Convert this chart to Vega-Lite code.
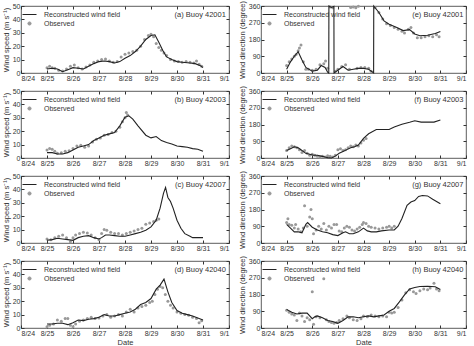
{
"$schema": "https://vega.github.io/schema/vega-lite/v6.json",
"padding": {"left": 1, "top": 0, "right": 0, "bottom": 0},
"config": {
 "font": "Liberation Sans",
 "view": {"stroke": "#333", "strokeWidth": 0.8},
 "axis": {"grid": false, "domain": false, "labelFontSize": 7, "titleFontSize": 7.5, "titleFontWeight": "normal", "labelColor": "#333", "titleColor": "#333", "tickColor": "#333", "tickSize": -3, "labelPadding": 4, "titlePadding": 2},
 "legend": {"orient": "top-left", "offset": 5, "padding": 0, "labelFontSize": 7, "labelColor": "#333", "symbolSize": 36, "rowPadding": 1, "labelOffset": 11, "title": null}
},
"datasets": {"w": [
{"panel":"a","series":"rec","day":25,"value":3},{"panel":"a","series":"rec","day":25.2,"value":3.5},{"panel":"a","series":"rec","day":25.4,"value":3},{"panel":"a","series":"rec","day":25.6,"value":1},{"panel":"a","series":"rec","day":25.8,"value":2.5},{"panel":"a","series":"rec","day":26,"value":4},{"panel":"a","series":"rec","day":26.2,"value":3.5},{"panel":"a","series":"rec","day":26.4,"value":3},{"panel":"a","series":"rec","day":26.6,"value":5},{"panel":"a","series":"rec","day":26.8,"value":7},{"panel":"a","series":"rec","day":27,"value":8.5},{"panel":"a","series":"rec","day":27.2,"value":9},{"panel":"a","series":"rec","day":27.4,"value":8.5},{"panel":"a","series":"rec","day":27.6,"value":7.5},{"panel":"a","series":"rec","day":27.8,"value":8.5},{"panel":"a","series":"rec","day":28,"value":11},{"panel":"a","series":"rec","day":28.2,"value":13},{"panel":"a","series":"rec","day":28.4,"value":16},{"panel":"a","series":"rec","day":28.6,"value":20},{"panel":"a","series":"rec","day":28.8,"value":25},{"panel":"a","series":"rec","day":29,"value":28},{"panel":"a","series":"rec","day":29.15,"value":28.5},{"panel":"a","series":"rec","day":29.3,"value":23},{"panel":"a","series":"rec","day":29.45,"value":17},{"panel":"a","series":"rec","day":29.6,"value":12},{"panel":"a","series":"rec","day":29.8,"value":10},{"panel":"a","series":"rec","day":30,"value":8.5},{"panel":"a","series":"rec","day":30.2,"value":8},{"panel":"a","series":"rec","day":30.5,"value":7.5},{"panel":"a","series":"rec","day":30.7,"value":7},{"panel":"a","series":"rec","day":30.9,"value":5.5},{"panel":"a","series":"rec","day":31,"value":4},
{"panel":"a","series":"obs","day":25,"value":4},{"panel":"a","series":"obs","day":25.1,"value":5},{"panel":"a","series":"obs","day":25.2,"value":4},{"panel":"a","series":"obs","day":25.3,"value":3.5},{"panel":"a","series":"obs","day":25.45,"value":2},{"panel":"a","series":"obs","day":25.6,"value":1.5},{"panel":"a","series":"obs","day":25.75,"value":3},{"panel":"a","series":"obs","day":25.9,"value":5},{"panel":"a","series":"obs","day":26.05,"value":6},{"panel":"a","series":"obs","day":26.2,"value":4},{"panel":"a","series":"obs","day":26.35,"value":3},{"panel":"a","series":"obs","day":26.5,"value":4.5},{"panel":"a","series":"obs","day":26.65,"value":6},{"panel":"a","series":"obs","day":26.8,"value":8},{"panel":"a","series":"obs","day":26.95,"value":9},{"panel":"a","series":"obs","day":27.1,"value":10},{"panel":"a","series":"obs","day":27.25,"value":10.5},{"panel":"a","series":"obs","day":27.4,"value":9},{"panel":"a","series":"obs","day":27.55,"value":8},{"panel":"a","series":"obs","day":27.7,"value":8.5},{"panel":"a","series":"obs","day":27.85,"value":12},{"panel":"a","series":"obs","day":28,"value":14},{"panel":"a","series":"obs","day":28.15,"value":15},{"panel":"a","series":"obs","day":28.3,"value":16},{"panel":"a","series":"obs","day":28.45,"value":17},{"panel":"a","series":"obs","day":28.6,"value":20},{"panel":"a","series":"obs","day":28.75,"value":25},{"panel":"a","series":"obs","day":28.9,"value":28},{"panel":"a","series":"obs","day":29,"value":29},{"panel":"a","series":"obs","day":29.1,"value":27},{"panel":"a","series":"obs","day":29.2,"value":22},{"panel":"a","series":"obs","day":29.3,"value":19},{"panel":"a","series":"obs","day":29.4,"value":17},{"panel":"a","series":"obs","day":29.5,"value":15},{"panel":"a","series":"obs","day":29.6,"value":13},{"panel":"a","series":"obs","day":29.75,"value":10},{"panel":"a","series":"obs","day":29.9,"value":9},{"panel":"a","series":"obs","day":30.05,"value":8.5},{"panel":"a","series":"obs","day":30.2,"value":8},{"panel":"a","series":"obs","day":30.35,"value":8.5},{"panel":"a","series":"obs","day":30.5,"value":8},{"panel":"a","series":"obs","day":30.65,"value":7.5},{"panel":"a","series":"obs","day":30.75,"value":9},{"panel":"a","series":"obs","day":30.85,"value":6.5},{"panel":"a","series":"obs","day":30.95,"value":5},
{"panel":"b","series":"rec","day":25,"value":4},{"panel":"b","series":"rec","day":25.2,"value":4},{"panel":"b","series":"rec","day":25.4,"value":3},{"panel":"b","series":"rec","day":25.6,"value":3},{"panel":"b","series":"rec","day":25.8,"value":4},{"panel":"b","series":"rec","day":26,"value":6},{"panel":"b","series":"rec","day":26.2,"value":8},{"panel":"b","series":"rec","day":26.4,"value":9},{"panel":"b","series":"rec","day":26.6,"value":10},{"panel":"b","series":"rec","day":26.8,"value":13},{"panel":"b","series":"rec","day":27,"value":15},{"panel":"b","series":"rec","day":27.2,"value":17},{"panel":"b","series":"rec","day":27.4,"value":18},{"panel":"b","series":"rec","day":27.6,"value":19},{"panel":"b","series":"rec","day":27.8,"value":24},{"panel":"b","series":"rec","day":28,"value":30.5},{"panel":"b","series":"rec","day":28.15,"value":31.5},{"panel":"b","series":"rec","day":28.3,"value":29},{"panel":"b","series":"rec","day":28.5,"value":24},{"panel":"b","series":"rec","day":28.8,"value":17},{"panel":"b","series":"rec","day":29,"value":15},{"panel":"b","series":"rec","day":29.2,"value":16},{"panel":"b","series":"rec","day":29.4,"value":13},{"panel":"b","series":"rec","day":29.6,"value":11.5},{"panel":"b","series":"rec","day":29.8,"value":10.5},{"panel":"b","series":"rec","day":30,"value":9},{"panel":"b","series":"rec","day":30.2,"value":8.5},{"panel":"b","series":"rec","day":30.4,"value":8},{"panel":"b","series":"rec","day":30.6,"value":7},{"panel":"b","series":"rec","day":30.8,"value":6.5},{"panel":"b","series":"rec","day":31,"value":5},
{"panel":"b","series":"obs","day":25,"value":6},{"panel":"b","series":"obs","day":25.1,"value":7},{"panel":"b","series":"obs","day":25.2,"value":6.5},{"panel":"b","series":"obs","day":25.3,"value":5},{"panel":"b","series":"obs","day":25.4,"value":3.5},{"panel":"b","series":"obs","day":25.55,"value":4},{"panel":"b","series":"obs","day":25.7,"value":5},{"panel":"b","series":"obs","day":25.85,"value":5.5},{"panel":"b","series":"obs","day":26,"value":7},{"panel":"b","series":"obs","day":26.15,"value":9},{"panel":"b","series":"obs","day":26.3,"value":9.5},{"panel":"b","series":"obs","day":26.45,"value":8},{"panel":"b","series":"obs","day":26.6,"value":9},{"panel":"b","series":"obs","day":26.75,"value":12},{"panel":"b","series":"obs","day":26.9,"value":14},{"panel":"b","series":"obs","day":27.05,"value":15},{"panel":"b","series":"obs","day":27.2,"value":17},{"panel":"b","series":"obs","day":27.35,"value":17.5},{"panel":"b","series":"obs","day":27.5,"value":19},{"panel":"b","series":"obs","day":27.65,"value":20},{"panel":"b","series":"obs","day":27.8,"value":23},{"panel":"b","series":"obs","day":27.9,"value":27},{"panel":"b","series":"obs","day":28,"value":30},{"panel":"b","series":"obs","day":28.05,"value":34},{"panel":"b","series":"obs","day":28.1,"value":32},
{"panel":"c","series":"rec","day":25,"value":2},{"panel":"c","series":"rec","day":25.2,"value":2.5},{"panel":"c","series":"rec","day":25.4,"value":3.5},{"panel":"c","series":"rec","day":25.6,"value":3},{"panel":"c","series":"rec","day":25.8,"value":2.5},{"panel":"c","series":"rec","day":26,"value":2},{"panel":"c","series":"rec","day":26.2,"value":4},{"panel":"c","series":"rec","day":26.4,"value":5},{"panel":"c","series":"rec","day":26.6,"value":5.5},{"panel":"c","series":"rec","day":26.8,"value":4},{"panel":"c","series":"rec","day":27,"value":3},{"panel":"c","series":"rec","day":27.1,"value":4},{"panel":"c","series":"rec","day":27.25,"value":6},{"panel":"c","series":"rec","day":27.4,"value":6},{"panel":"c","series":"rec","day":27.6,"value":5.5},{"panel":"c","series":"rec","day":27.8,"value":5},{"panel":"c","series":"rec","day":28,"value":5},{"panel":"c","series":"rec","day":28.2,"value":6},{"panel":"c","series":"rec","day":28.4,"value":7},{"panel":"c","series":"rec","day":28.6,"value":8},{"panel":"c","series":"rec","day":28.8,"value":9.5},{"panel":"c","series":"rec","day":29,"value":12},{"panel":"c","series":"rec","day":29.2,"value":17},{"panel":"c","series":"rec","day":29.35,"value":26},{"panel":"c","series":"rec","day":29.48,"value":37},{"panel":"c","series":"rec","day":29.56,"value":41.5},{"panel":"c","series":"rec","day":29.65,"value":34},{"panel":"c","series":"rec","day":29.75,"value":31},{"panel":"c","series":"rec","day":29.85,"value":26},{"panel":"c","series":"rec","day":30,"value":17},{"panel":"c","series":"rec","day":30.15,"value":11},{"panel":"c","series":"rec","day":30.3,"value":7},{"panel":"c","series":"rec","day":30.5,"value":5},{"panel":"c","series":"rec","day":30.6,"value":4},{"panel":"c","series":"rec","day":30.8,"value":4},{"panel":"c","series":"rec","day":31,"value":4},
{"panel":"c","series":"obs","day":25,"value":3},{"panel":"c","series":"obs","day":25.15,"value":2.5},{"panel":"c","series":"obs","day":25.3,"value":4},{"panel":"c","series":"obs","day":25.45,"value":5},{"panel":"c","series":"obs","day":25.6,"value":6},{"panel":"c","series":"obs","day":25.75,"value":4},{"panel":"c","series":"obs","day":25.9,"value":1},{"panel":"c","series":"obs","day":26,"value":4},{"panel":"c","series":"obs","day":26.1,"value":6},{"panel":"c","series":"obs","day":26.25,"value":7},{"panel":"c","series":"obs","day":26.4,"value":8},{"panel":"c","series":"obs","day":26.55,"value":7.5},{"panel":"c","series":"obs","day":26.7,"value":6},{"panel":"c","series":"obs","day":26.85,"value":4},{"panel":"c","series":"obs","day":27,"value":2.5},{"panel":"c","series":"obs","day":27.1,"value":7},{"panel":"c","series":"obs","day":27.2,"value":10},{"panel":"c","series":"obs","day":27.3,"value":9.5},{"panel":"c","series":"obs","day":27.45,"value":8},{"panel":"c","series":"obs","day":27.6,"value":7},{"panel":"c","series":"obs","day":27.75,"value":7},{"panel":"c","series":"obs","day":27.9,"value":6},{"panel":"c","series":"obs","day":28.05,"value":7},{"panel":"c","series":"obs","day":28.2,"value":8},{"panel":"c","series":"obs","day":28.35,"value":9},{"panel":"c","series":"obs","day":28.5,"value":10},{"panel":"c","series":"obs","day":28.65,"value":11},{"panel":"c","series":"obs","day":28.8,"value":14},{"panel":"c","series":"obs","day":28.95,"value":15},{"panel":"c","series":"obs","day":29.1,"value":16},{"panel":"c","series":"obs","day":29.2,"value":17},{"panel":"c","series":"obs","day":29.3,"value":18},
{"panel":"d","series":"rec","day":25,"value":3},{"panel":"d","series":"rec","day":25.2,"value":3},{"panel":"d","series":"rec","day":25.4,"value":3.5},{"panel":"d","series":"rec","day":25.6,"value":3.5},{"panel":"d","series":"rec","day":25.8,"value":2.5},{"panel":"d","series":"rec","day":26,"value":4},{"panel":"d","series":"rec","day":26.2,"value":6},{"panel":"d","series":"rec","day":26.4,"value":5.5},{"panel":"d","series":"rec","day":26.6,"value":6.5},{"panel":"d","series":"rec","day":26.8,"value":7},{"panel":"d","series":"rec","day":27,"value":8},{"panel":"d","series":"rec","day":27.2,"value":10},{"panel":"d","series":"rec","day":27.4,"value":9},{"panel":"d","series":"rec","day":27.6,"value":9},{"panel":"d","series":"rec","day":27.8,"value":10},{"panel":"d","series":"rec","day":28,"value":11},{"panel":"d","series":"rec","day":28.2,"value":12},{"panel":"d","series":"rec","day":28.4,"value":14},{"panel":"d","series":"rec","day":28.6,"value":17.5},{"panel":"d","series":"rec","day":28.8,"value":19},{"panel":"d","series":"rec","day":29,"value":22},{"panel":"d","series":"rec","day":29.2,"value":29},{"panel":"d","series":"rec","day":29.35,"value":32},{"panel":"d","series":"rec","day":29.5,"value":36.5},{"panel":"d","series":"rec","day":29.65,"value":27},{"panel":"d","series":"rec","day":29.8,"value":19},{"panel":"d","series":"rec","day":30,"value":13},{"panel":"d","series":"rec","day":30.2,"value":11},{"panel":"d","series":"rec","day":30.4,"value":10},{"panel":"d","series":"rec","day":30.6,"value":9},{"panel":"d","series":"rec","day":30.8,"value":7.5},{"panel":"d","series":"rec","day":31,"value":6},
{"panel":"d","series":"obs","day":25,"value":1},{"panel":"d","series":"obs","day":25.1,"value":2},{"panel":"d","series":"obs","day":25.25,"value":3},{"panel":"d","series":"obs","day":25.4,"value":6},{"panel":"d","series":"obs","day":25.55,"value":5},{"panel":"d","series":"obs","day":25.7,"value":7},{"panel":"d","series":"obs","day":25.8,"value":7},{"panel":"d","series":"obs","day":25.9,"value":2},{"panel":"d","series":"obs","day":26,"value":1},{"panel":"d","series":"obs","day":26.1,"value":3},{"panel":"d","series":"obs","day":26.25,"value":5},{"panel":"d","series":"obs","day":26.4,"value":6},{"panel":"d","series":"obs","day":26.55,"value":7},{"panel":"d","series":"obs","day":26.7,"value":8},{"panel":"d","series":"obs","day":26.85,"value":7},{"panel":"d","series":"obs","day":27,"value":7.5},{"panel":"d","series":"obs","day":27.15,"value":9},{"panel":"d","series":"obs","day":27.3,"value":10},{"panel":"d","series":"obs","day":27.45,"value":8},{"panel":"d","series":"obs","day":27.6,"value":9},{"panel":"d","series":"obs","day":27.75,"value":10},{"panel":"d","series":"obs","day":27.9,"value":9},{"panel":"d","series":"obs","day":28.05,"value":12},{"panel":"d","series":"obs","day":28.2,"value":14},{"panel":"d","series":"obs","day":28.35,"value":12},{"panel":"d","series":"obs","day":28.5,"value":15},{"panel":"d","series":"obs","day":28.65,"value":16},{"panel":"d","series":"obs","day":28.8,"value":17},{"panel":"d","series":"obs","day":28.95,"value":19},{"panel":"d","series":"obs","day":29.05,"value":20},{"panel":"d","series":"obs","day":29.15,"value":25},{"panel":"d","series":"obs","day":29.25,"value":29},{"panel":"d","series":"obs","day":29.35,"value":31},{"panel":"d","series":"obs","day":29.45,"value":30},{"panel":"d","series":"obs","day":29.55,"value":25},{"panel":"d","series":"obs","day":29.65,"value":20},{"panel":"d","series":"obs","day":29.75,"value":17},{"panel":"d","series":"obs","day":29.85,"value":15},{"panel":"d","series":"obs","day":30,"value":12},{"panel":"d","series":"obs","day":30.15,"value":11},{"panel":"d","series":"obs","day":30.3,"value":10},{"panel":"d","series":"obs","day":30.45,"value":9.5},{"panel":"d","series":"obs","day":30.6,"value":8},{"panel":"d","series":"obs","day":30.75,"value":7},{"panel":"d","series":"obs","day":30.85,"value":4},{"panel":"d","series":"obs","day":30.95,"value":5.5},
{"panel":"e","series":"rec","day":25,"value":20},{"panel":"e","series":"rec","day":25.15,"value":60},{"panel":"e","series":"rec","day":25.3,"value":90},{"panel":"e","series":"rec","day":25.45,"value":114},{"panel":"e","series":"rec","day":25.6,"value":70},{"panel":"e","series":"rec","day":25.75,"value":30},{"panel":"e","series":"rec","day":26,"value":10},{"panel":"e","series":"rec","day":26.2,"value":15},{"panel":"e","series":"rec","day":26.35,"value":40},{"panel":"e","series":"rec","day":26.5,"value":30},{"panel":"e","series":"rec","day":26.6,"value":5},{"panel":"e","series":"rec","day":26.645,"value":0},{"panel":"e","series":"rec","day":26.65,"value":360},{"panel":"e","series":"rec","day":26.75,"value":352},{"panel":"e","series":"rec","day":26.845,"value":358},{"panel":"e","series":"rec","day":26.85,"value":0},{"panel":"e","series":"rec","day":27,"value":15},{"panel":"e","series":"rec","day":27.2,"value":35},{"panel":"e","series":"rec","day":27.4,"value":15},{"panel":"e","series":"rec","day":27.6,"value":20},{"panel":"e","series":"rec","day":27.8,"value":25},{"panel":"e","series":"rec","day":28,"value":25},{"panel":"e","series":"rec","day":28.2,"value":20},{"panel":"e","series":"rec","day":28.395,"value":0},{"panel":"e","series":"rec","day":28.4,"value":360},{"panel":"e","series":"rec","day":28.6,"value":325},{"panel":"e","series":"rec","day":28.8,"value":280},{"panel":"e","series":"rec","day":29,"value":262},{"panel":"e","series":"rec","day":29.3,"value":245},{"panel":"e","series":"rec","day":29.55,"value":228},{"panel":"e","series":"rec","day":29.8,"value":233},{"panel":"e","series":"rec","day":30,"value":210},{"panel":"e","series":"rec","day":30.2,"value":200},{"panel":"e","series":"rec","day":30.5,"value":203},{"panel":"e","series":"rec","day":30.8,"value":212},{"panel":"e","series":"rec","day":31,"value":223},
{"panel":"e","series":"obs","day":25,"value":40},{"panel":"e","series":"obs","day":25.1,"value":60},{"panel":"e","series":"obs","day":25.2,"value":75},{"panel":"e","series":"obs","day":25.3,"value":90},{"panel":"e","series":"obs","day":25.37,"value":100},{"panel":"e","series":"obs","day":25.45,"value":120},{"panel":"e","series":"obs","day":25.5,"value":135},{"panel":"e","series":"obs","day":25.56,"value":150},{"panel":"e","series":"obs","day":25.65,"value":60},{"panel":"e","series":"obs","day":25.75,"value":20},{"panel":"e","series":"obs","day":25.85,"value":20},{"panel":"e","series":"obs","day":26,"value":15},{"panel":"e","series":"obs","day":26.15,"value":20},{"panel":"e","series":"obs","day":26.3,"value":45},{"panel":"e","series":"obs","day":26.45,"value":50},{"panel":"e","series":"obs","day":26.52,"value":65},{"panel":"e","series":"obs","day":26.6,"value":25},{"panel":"e","series":"obs","day":26.7,"value":355},{"panel":"e","series":"obs","day":26.8,"value":350},{"panel":"e","series":"obs","day":26.9,"value":10},{"panel":"e","series":"obs","day":27,"value":20},{"panel":"e","series":"obs","day":27.15,"value":35},{"panel":"e","series":"obs","day":27.3,"value":45},{"panel":"e","series":"obs","day":27.45,"value":20},{"panel":"e","series":"obs","day":27.5,"value":352},{"panel":"e","series":"obs","day":27.6,"value":355},{"panel":"e","series":"obs","day":27.7,"value":350},{"panel":"e","series":"obs","day":27.8,"value":358},{"panel":"e","series":"obs","day":27.75,"value":25},{"panel":"e","series":"obs","day":27.9,"value":30},{"panel":"e","series":"obs","day":28.05,"value":30},{"panel":"e","series":"obs","day":28.2,"value":25},{"panel":"e","series":"obs","day":28.3,"value":10},{"panel":"e","series":"obs","day":28.45,"value":350},{"panel":"e","series":"obs","day":28.6,"value":325},{"panel":"e","series":"obs","day":28.75,"value":290},{"panel":"e","series":"obs","day":28.9,"value":265},{"panel":"e","series":"obs","day":29.05,"value":255},{"panel":"e","series":"obs","day":29.2,"value":245},{"panel":"e","series":"obs","day":29.35,"value":235},{"panel":"e","series":"obs","day":29.5,"value":225},{"panel":"e","series":"obs","day":29.6,"value":215},{"panel":"e","series":"obs","day":29.75,"value":235},{"panel":"e","series":"obs","day":29.85,"value":245},{"panel":"e","series":"obs","day":29.95,"value":215},{"panel":"e","series":"obs","day":30.1,"value":190},{"panel":"e","series":"obs","day":30.25,"value":190},{"panel":"e","series":"obs","day":30.4,"value":195},{"panel":"e","series":"obs","day":30.55,"value":200},{"panel":"e","series":"obs","day":30.7,"value":195},{"panel":"e","series":"obs","day":30.85,"value":205},{"panel":"e","series":"obs","day":30.95,"value":195},
{"panel":"f","series":"rec","day":25,"value":40},{"panel":"f","series":"rec","day":25.15,"value":50},{"panel":"f","series":"rec","day":25.3,"value":60},{"panel":"f","series":"rec","day":25.45,"value":55},{"panel":"f","series":"rec","day":25.6,"value":40},{"panel":"f","series":"rec","day":25.75,"value":25},{"panel":"f","series":"rec","day":25.9,"value":20},{"panel":"f","series":"rec","day":26.05,"value":15},{"panel":"f","series":"rec","day":26.2,"value":15},{"panel":"f","series":"rec","day":26.35,"value":10},{"panel":"f","series":"rec","day":26.5,"value":5},{"panel":"f","series":"rec","day":26.6,"value":2},{"panel":"f","series":"rec","day":26.75,"value":0},{"panel":"f","series":"rec","day":26.9,"value":10},{"panel":"f","series":"rec","day":27.05,"value":25},{"panel":"f","series":"rec","day":27.2,"value":35},{"panel":"f","series":"rec","day":27.35,"value":45},{"panel":"f","series":"rec","day":27.5,"value":55},{"panel":"f","series":"rec","day":27.65,"value":60},{"panel":"f","series":"rec","day":27.8,"value":70},{"panel":"f","series":"rec","day":28,"value":105},{"panel":"f","series":"rec","day":28.2,"value":130},{"panel":"f","series":"rec","day":28.5,"value":153},{"panel":"f","series":"rec","day":29,"value":153},{"panel":"f","series":"rec","day":29.2,"value":167},{"panel":"f","series":"rec","day":29.5,"value":181},{"panel":"f","series":"rec","day":29.8,"value":192},{"panel":"f","series":"rec","day":30,"value":200},{"panel":"f","series":"rec","day":30.25,"value":193},{"panel":"f","series":"rec","day":30.75,"value":193},{"panel":"f","series":"rec","day":31,"value":204},
{"panel":"f","series":"obs","day":25,"value":40},{"panel":"f","series":"obs","day":25.1,"value":55},{"panel":"f","series":"obs","day":25.2,"value":65},{"panel":"f","series":"obs","day":25.3,"value":60},{"panel":"f","series":"obs","day":25.4,"value":55},{"panel":"f","series":"obs","day":25.5,"value":45},{"panel":"f","series":"obs","day":25.6,"value":30},{"panel":"f","series":"obs","day":25.7,"value":40},{"panel":"f","series":"obs","day":25.8,"value":25},{"panel":"f","series":"obs","day":25.9,"value":15},{"panel":"f","series":"obs","day":26,"value":20},{"panel":"f","series":"obs","day":26.1,"value":15},{"panel":"f","series":"obs","day":26.2,"value":10},{"panel":"f","series":"obs","day":26.3,"value":5},{"panel":"f","series":"obs","day":26.4,"value":10},{"panel":"f","series":"obs","day":26.5,"value":5},{"panel":"f","series":"obs","day":26.6,"value":12},{"panel":"f","series":"obs","day":26.7,"value":10},{"panel":"f","series":"obs","day":26.8,"value":5},{"panel":"f","series":"obs","day":26.9,"value":15},{"panel":"f","series":"obs","day":27,"value":45},{"panel":"f","series":"obs","day":27.1,"value":50},{"panel":"f","series":"obs","day":27.2,"value":40},{"panel":"f","series":"obs","day":27.3,"value":45},{"panel":"f","series":"obs","day":27.4,"value":55},{"panel":"f","series":"obs","day":27.5,"value":65},{"panel":"f","series":"obs","day":27.6,"value":60},{"panel":"f","series":"obs","day":27.7,"value":70},{"panel":"f","series":"obs","day":27.8,"value":65},{"panel":"f","series":"obs","day":27.9,"value":80},{"panel":"f","series":"obs","day":28,"value":95},{"panel":"f","series":"obs","day":28.1,"value":105},
{"panel":"g","series":"rec","day":25,"value":100},{"panel":"g","series":"rec","day":25.15,"value":80},{"panel":"g","series":"rec","day":25.3,"value":60},{"panel":"g","series":"rec","day":25.45,"value":60},{"panel":"g","series":"rec","day":25.6,"value":55},{"panel":"g","series":"rec","day":25.75,"value":100},{"panel":"g","series":"rec","day":25.82,"value":110},{"panel":"g","series":"rec","day":26,"value":85},{"panel":"g","series":"rec","day":26.2,"value":70},{"panel":"g","series":"rec","day":26.4,"value":60},{"panel":"g","series":"rec","day":26.6,"value":55},{"panel":"g","series":"rec","day":26.8,"value":45},{"panel":"g","series":"rec","day":27,"value":40},{"panel":"g","series":"rec","day":27.2,"value":55},{"panel":"g","series":"rec","day":27.3,"value":60},{"panel":"g","series":"rec","day":27.45,"value":50},{"panel":"g","series":"rec","day":27.6,"value":50},{"panel":"g","series":"rec","day":27.8,"value":60},{"panel":"g","series":"rec","day":28,"value":80},{"panel":"g","series":"rec","day":28.15,"value":65},{"panel":"g","series":"rec","day":28.3,"value":60},{"panel":"g","series":"rec","day":28.5,"value":60},{"panel":"g","series":"rec","day":28.7,"value":65},{"panel":"g","series":"rec","day":29,"value":70},{"panel":"g","series":"rec","day":29.2,"value":70},{"panel":"g","series":"rec","day":29.35,"value":90},{"panel":"g","series":"rec","day":29.5,"value":132},{"panel":"g","series":"rec","day":29.7,"value":202},{"panel":"g","series":"rec","day":29.85,"value":220},{"panel":"g","series":"rec","day":30,"value":228},{"panel":"g","series":"rec","day":30.15,"value":250},{"panel":"g","series":"rec","day":30.3,"value":255},{"panel":"g","series":"rec","day":30.5,"value":253},{"panel":"g","series":"rec","day":30.7,"value":235},{"panel":"g","series":"rec","day":31,"value":211},
{"panel":"g","series":"obs","day":25,"value":110},{"panel":"g","series":"obs","day":25.05,"value":130},{"panel":"g","series":"obs","day":25.1,"value":100},{"panel":"g","series":"obs","day":25.2,"value":95},{"panel":"g","series":"obs","day":25.3,"value":80},{"panel":"g","series":"obs","day":25.35,"value":100},{"panel":"g","series":"obs","day":25.45,"value":75},{"panel":"g","series":"obs","day":25.55,"value":60},{"panel":"g","series":"obs","day":25.65,"value":80},{"panel":"g","series":"obs","day":25.7,"value":200},{"panel":"g","series":"obs","day":25.8,"value":90},{"panel":"g","series":"obs","day":25.9,"value":140},{"panel":"g","series":"obs","day":25.95,"value":180},{"panel":"g","series":"obs","day":26,"value":130},{"panel":"g","series":"obs","day":26.05,"value":50},{"panel":"g","series":"obs","day":26.15,"value":70},{"panel":"g","series":"obs","day":26.25,"value":90},{"panel":"g","series":"obs","day":26.35,"value":75},{"panel":"g","series":"obs","day":26.45,"value":105},{"panel":"g","series":"obs","day":26.55,"value":70},{"panel":"g","series":"obs","day":26.65,"value":90},{"panel":"g","series":"obs","day":26.75,"value":80},{"panel":"g","series":"obs","day":26.85,"value":100},{"panel":"g","series":"obs","day":26.95,"value":100},{"panel":"g","series":"obs","day":27.05,"value":65},{"panel":"g","series":"obs","day":27.15,"value":60},{"panel":"g","series":"obs","day":27.25,"value":80},{"panel":"g","series":"obs","day":27.35,"value":90},{"panel":"g","series":"obs","day":27.45,"value":85},{"panel":"g","series":"obs","day":27.55,"value":70},{"panel":"g","series":"obs","day":27.65,"value":65},{"panel":"g","series":"obs","day":27.75,"value":75},{"panel":"g","series":"obs","day":27.85,"value":85},{"panel":"g","series":"obs","day":27.95,"value":100},{"panel":"g","series":"obs","day":28,"value":110},{"panel":"g","series":"obs","day":28.1,"value":105},{"panel":"g","series":"obs","day":28.2,"value":90},{"panel":"g","series":"obs","day":28.3,"value":85},{"panel":"g","series":"obs","day":28.45,"value":80},{"panel":"g","series":"obs","day":28.6,"value":75},{"panel":"g","series":"obs","day":28.75,"value":80},{"panel":"g","series":"obs","day":28.9,"value":85},{"panel":"g","series":"obs","day":29,"value":90},{"panel":"g","series":"obs","day":29.1,"value":80},{"panel":"g","series":"obs","day":29.2,"value":90},
{"panel":"h","series":"rec","day":25,"value":100},{"panel":"h","series":"rec","day":25.2,"value":85},{"panel":"h","series":"rec","day":25.4,"value":75},{"panel":"h","series":"rec","day":25.6,"value":80},{"panel":"h","series":"rec","day":25.8,"value":80},{"panel":"h","series":"rec","day":26,"value":50},{"panel":"h","series":"rec","day":26.1,"value":60},{"panel":"h","series":"rec","day":26.2,"value":65},{"panel":"h","series":"rec","day":26.4,"value":55},{"panel":"h","series":"rec","day":26.6,"value":40},{"panel":"h","series":"rec","day":26.8,"value":35},{"panel":"h","series":"rec","day":27,"value":25},{"panel":"h","series":"rec","day":27.2,"value":40},{"panel":"h","series":"rec","day":27.4,"value":60},{"panel":"h","series":"rec","day":27.6,"value":60},{"panel":"h","series":"rec","day":27.8,"value":55},{"panel":"h","series":"rec","day":28,"value":60},{"panel":"h","series":"rec","day":28.2,"value":65},{"panel":"h","series":"rec","day":28.4,"value":60},{"panel":"h","series":"rec","day":28.6,"value":65},{"panel":"h","series":"rec","day":28.8,"value":70},{"panel":"h","series":"rec","day":29,"value":90},{"panel":"h","series":"rec","day":29.2,"value":105},{"panel":"h","series":"rec","day":29.4,"value":140},{"panel":"h","series":"rec","day":29.6,"value":178},{"panel":"h","series":"rec","day":29.8,"value":210},{"panel":"h","series":"rec","day":30,"value":218},{"panel":"h","series":"rec","day":30.2,"value":223},{"panel":"h","series":"rec","day":30.5,"value":224},{"panel":"h","series":"rec","day":30.8,"value":222},{"panel":"h","series":"rec","day":31,"value":207},
{"panel":"h","series":"obs","day":25,"value":95},{"panel":"h","series":"obs","day":25.1,"value":85},{"panel":"h","series":"obs","day":25.2,"value":75},{"panel":"h","series":"obs","day":25.3,"value":70},{"panel":"h","series":"obs","day":25.4,"value":40},{"panel":"h","series":"obs","day":25.5,"value":80},{"panel":"h","series":"obs","day":25.6,"value":65},{"panel":"h","series":"obs","day":25.7,"value":35},{"panel":"h","series":"obs","day":25.8,"value":55},{"panel":"h","series":"obs","day":25.9,"value":45},{"panel":"h","series":"obs","day":26,"value":195},{"panel":"h","series":"obs","day":26.05,"value":20},{"panel":"h","series":"obs","day":26.15,"value":60},{"panel":"h","series":"obs","day":26.3,"value":55},{"panel":"h","series":"obs","day":26.45,"value":265},{"panel":"h","series":"obs","day":26.55,"value":45},{"panel":"h","series":"obs","day":26.65,"value":35},{"panel":"h","series":"obs","day":26.75,"value":30},{"panel":"h","series":"obs","day":26.85,"value":25},{"panel":"h","series":"obs","day":26.95,"value":30},{"panel":"h","series":"obs","day":27.05,"value":40},{"panel":"h","series":"obs","day":27.2,"value":50},{"panel":"h","series":"obs","day":27.35,"value":65},{"panel":"h","series":"obs","day":27.45,"value":55},{"panel":"h","series":"obs","day":27.6,"value":45},{"panel":"h","series":"obs","day":27.75,"value":40},{"panel":"h","series":"obs","day":27.9,"value":50},{"panel":"h","series":"obs","day":28,"value":65},{"panel":"h","series":"obs","day":28.15,"value":60},{"panel":"h","series":"obs","day":28.3,"value":70},{"panel":"h","series":"obs","day":28.45,"value":65},{"panel":"h","series":"obs","day":28.6,"value":60},{"panel":"h","series":"obs","day":28.75,"value":65},{"panel":"h","series":"obs","day":28.9,"value":60},{"panel":"h","series":"obs","day":29,"value":85},{"panel":"h","series":"obs","day":29.1,"value":80},{"panel":"h","series":"obs","day":29.2,"value":85},{"panel":"h","series":"obs","day":29.35,"value":110},{"panel":"h","series":"obs","day":29.5,"value":150},{"panel":"h","series":"obs","day":29.65,"value":190},{"panel":"h","series":"obs","day":29.8,"value":205},{"panel":"h","series":"obs","day":29.95,"value":195},{"panel":"h","series":"obs","day":30.05,"value":185},{"panel":"h","series":"obs","day":30.2,"value":200},{"panel":"h","series":"obs","day":30.35,"value":210},{"panel":"h","series":"obs","day":30.5,"value":205},{"panel":"h","series":"obs","day":30.6,"value":215},{"panel":"h","series":"obs","day":30.75,"value":240},{"panel":"h","series":"obs","day":30.85,"value":210},{"panel":"h","series":"obs","day":30.95,"value":200}
]},
"columns": 2,
"bounds": "flush",
"spacing": {"row": 18, "column": 32},
"resolve": {"scale": {"color": "independent"}, "legend": {"color": "independent"}},
"concat": [
 {"width": 208, "height": 67, "resolve": {"axis": {"x": "independent", "y": "independent"}}, "layer": [
  {"data": {"name": "w"}, "transform": [{"filter": "datum.panel == 'a'"}],
   "encoding": {
    "x": {"field": "day", "type": "quantitative", "scale": {"domain": [24, 32], "nice": false, "zero": false}, "axis": {"values": [24,25,26,27,28,29,30,31,32], "labelExpr": "datum.value < 32 ? '8/' + datum.value : '9/1'", "title": null}},
    "y": {"field": "value", "type": "quantitative", "scale": {"domain": [0, 50], "nice": false}, "axis": {"values": [0,10,20,30,40,50], "title": "Wind speed (m s⁻¹)"}},
    "color": {"field": "series", "type": "nominal", "scale": {"domain": ["rec","obs"], "range": ["#222","#999"]}, "legend": {"labelExpr": "datum.value == 'rec' ? 'Reconstructed wind field' : 'Observed'", "encode": {"symbols": {"update": {"shape": {"signal": "datum.value == 'rec' ? 'stroke' : 'circle'"}, "size": {"signal": "datum.value == 'rec' ? 196 : 10"}, "stroke": {"signal": "datum.value == 'rec' ? '#222' : '#999'"}, "fill": {"signal": "datum.value == 'rec' ? 'transparent' : '#999'"}, "strokeWidth": {"value": 1}}}}}}
   },
   "layer": [
    {"transform": [{"filter": "datum.series == 'obs'"}], "mark": {"type": "point", "filled": true, "size": 9, "opacity": 1}},
    {"transform": [{"filter": "datum.series == 'rec'"}], "mark": {"type": "line", "strokeWidth": 1.1}}
   ]},
  {"data": {"values": [{"label": "(a) Buoy 42001"}]}, "mark": {"type": "text", "align": "right", "baseline": "middle", "fontSize": 7.5, "color": "#333"},
   "encoding": {"x": {"datum": 31.88, "type": "quantitative", "axis": {"orient": "top", "values": [24,25,26,27,28,29,30,31,32], "labels": false, "title": null}}, "y": {"datum": 43.5, "type": "quantitative", "axis": {"orient": "right", "values": [0,10,20,30,40,50], "labels": false, "title": null}}, "text": {"field": "label"}}}
 ]},
 {"width": 205, "height": 67, "resolve": {"axis": {"x": "independent", "y": "independent"}}, "layer": [
  {"data": {"name": "w"}, "transform": [{"filter": "datum.panel == 'e'"}],
   "encoding": {
    "x": {"field": "day", "type": "quantitative", "scale": {"domain": [24, 32], "nice": false, "zero": false}, "axis": {"values": [24,25,26,27,28,29,30,31,32], "labelExpr": "datum.value < 32 ? '8/' + datum.value : '9/1'", "title": null}},
    "y": {"field": "value", "type": "quantitative", "scale": {"domain": [0, 360], "nice": false}, "axis": {"values": [0,90,180,270,360], "title": "Wind direction (degree)"}},
    "color": {"field": "series", "type": "nominal", "scale": {"domain": ["rec","obs"], "range": ["#222","#999"]}, "legend": {"labelExpr": "datum.value == 'rec' ? 'Reconstructed wind field' : 'Observed'", "encode": {"symbols": {"update": {"shape": {"signal": "datum.value == 'rec' ? 'stroke' : 'circle'"}, "size": {"signal": "datum.value == 'rec' ? 196 : 10"}, "stroke": {"signal": "datum.value == 'rec' ? '#222' : '#999'"}, "fill": {"signal": "datum.value == 'rec' ? 'transparent' : '#999'"}, "strokeWidth": {"value": 1}}}}}}
   },
   "layer": [
    {"transform": [{"filter": "datum.series == 'obs'"}], "mark": {"type": "point", "filled": true, "size": 9, "opacity": 1}},
    {"transform": [{"filter": "datum.series == 'rec'"}], "mark": {"type": "line", "strokeWidth": 1.1}}
   ]},
  {"data": {"values": [{"label": "(e) Buoy 42001"}]}, "mark": {"type": "text", "align": "right", "baseline": "middle", "fontSize": 7.5, "color": "#333"},
   "encoding": {"x": {"datum": 31.9, "type": "quantitative", "axis": {"orient": "top", "values": [24,25,26,27,28,29,30,31,32], "labels": false, "title": null}}, "y": {"datum": 313, "type": "quantitative", "axis": {"orient": "right", "values": [0,90,180,270,360], "labels": false, "title": null}}, "text": {"field": "label"}}}
 ]},
 {"width": 208, "height": 67, "resolve": {"axis": {"x": "independent", "y": "independent"}}, "layer": [
  {"data": {"name": "w"}, "transform": [{"filter": "datum.panel == 'b'"}],
   "encoding": {
    "x": {"field": "day", "type": "quantitative", "scale": {"domain": [24, 32], "nice": false, "zero": false}, "axis": {"values": [24,25,26,27,28,29,30,31,32], "labelExpr": "datum.value < 32 ? '8/' + datum.value : '9/1'", "title": null}},
    "y": {"field": "value", "type": "quantitative", "scale": {"domain": [0, 50], "nice": false}, "axis": {"values": [0,10,20,30,40,50], "title": "Wind speed (m s⁻¹)"}},
    "color": {"field": "series", "type": "nominal", "scale": {"domain": ["rec","obs"], "range": ["#222","#999"]}, "legend": {"labelExpr": "datum.value == 'rec' ? 'Reconstructed wind field' : 'Observed'", "encode": {"symbols": {"update": {"shape": {"signal": "datum.value == 'rec' ? 'stroke' : 'circle'"}, "size": {"signal": "datum.value == 'rec' ? 196 : 10"}, "stroke": {"signal": "datum.value == 'rec' ? '#222' : '#999'"}, "fill": {"signal": "datum.value == 'rec' ? 'transparent' : '#999'"}, "strokeWidth": {"value": 1}}}}}}
   },
   "layer": [
    {"transform": [{"filter": "datum.series == 'obs'"}], "mark": {"type": "point", "filled": true, "size": 9, "opacity": 1}},
    {"transform": [{"filter": "datum.series == 'rec'"}], "mark": {"type": "line", "strokeWidth": 1.1}}
   ]},
  {"data": {"values": [{"label": "(b) Buoy 42003"}]}, "mark": {"type": "text", "align": "right", "baseline": "middle", "fontSize": 7.5, "color": "#333"},
   "encoding": {"x": {"datum": 31.88, "type": "quantitative", "axis": {"orient": "top", "values": [24,25,26,27,28,29,30,31,32], "labels": false, "title": null}}, "y": {"datum": 43.5, "type": "quantitative", "axis": {"orient": "right", "values": [0,10,20,30,40,50], "labels": false, "title": null}}, "text": {"field": "label"}}}
 ]},
 {"width": 205, "height": 67, "resolve": {"axis": {"x": "independent", "y": "independent"}}, "layer": [
  {"data": {"name": "w"}, "transform": [{"filter": "datum.panel == 'f'"}],
   "encoding": {
    "x": {"field": "day", "type": "quantitative", "scale": {"domain": [24, 32], "nice": false, "zero": false}, "axis": {"values": [24,25,26,27,28,29,30,31,32], "labelExpr": "datum.value < 32 ? '8/' + datum.value : '9/1'", "title": null}},
    "y": {"field": "value", "type": "quantitative", "scale": {"domain": [0, 360], "nice": false}, "axis": {"values": [0,90,180,270,360], "title": "Wind direction (degree)"}},
    "color": {"field": "series", "type": "nominal", "scale": {"domain": ["rec","obs"], "range": ["#222","#999"]}, "legend": {"labelExpr": "datum.value == 'rec' ? 'Reconstructed wind field' : 'Observed'", "encode": {"symbols": {"update": {"shape": {"signal": "datum.value == 'rec' ? 'stroke' : 'circle'"}, "size": {"signal": "datum.value == 'rec' ? 196 : 10"}, "stroke": {"signal": "datum.value == 'rec' ? '#222' : '#999'"}, "fill": {"signal": "datum.value == 'rec' ? 'transparent' : '#999'"}, "strokeWidth": {"value": 1}}}}}}
   },
   "layer": [
    {"transform": [{"filter": "datum.series == 'obs'"}], "mark": {"type": "point", "filled": true, "size": 9, "opacity": 1}},
    {"transform": [{"filter": "datum.series == 'rec'"}], "mark": {"type": "line", "strokeWidth": 1.1}}
   ]},
  {"data": {"values": [{"label": "(f) Buoy 42003"}]}, "mark": {"type": "text", "align": "right", "baseline": "middle", "fontSize": 7.5, "color": "#333"},
   "encoding": {"x": {"datum": 31.9, "type": "quantitative", "axis": {"orient": "top", "values": [24,25,26,27,28,29,30,31,32], "labels": false, "title": null}}, "y": {"datum": 313, "type": "quantitative", "axis": {"orient": "right", "values": [0,90,180,270,360], "labels": false, "title": null}}, "text": {"field": "label"}}}
 ]},
 {"width": 208, "height": 67, "resolve": {"axis": {"x": "independent", "y": "independent"}}, "layer": [
  {"data": {"name": "w"}, "transform": [{"filter": "datum.panel == 'c'"}],
   "encoding": {
    "x": {"field": "day", "type": "quantitative", "scale": {"domain": [24, 32], "nice": false, "zero": false}, "axis": {"values": [24,25,26,27,28,29,30,31,32], "labelExpr": "datum.value < 32 ? '8/' + datum.value : '9/1'", "title": null}},
    "y": {"field": "value", "type": "quantitative", "scale": {"domain": [0, 50], "nice": false}, "axis": {"values": [0,10,20,30,40,50], "title": "Wind speed (m s⁻¹)"}},
    "color": {"field": "series", "type": "nominal", "scale": {"domain": ["rec","obs"], "range": ["#222","#999"]}, "legend": {"labelExpr": "datum.value == 'rec' ? 'Reconstructed wind field' : 'Observed'", "encode": {"symbols": {"update": {"shape": {"signal": "datum.value == 'rec' ? 'stroke' : 'circle'"}, "size": {"signal": "datum.value == 'rec' ? 196 : 10"}, "stroke": {"signal": "datum.value == 'rec' ? '#222' : '#999'"}, "fill": {"signal": "datum.value == 'rec' ? 'transparent' : '#999'"}, "strokeWidth": {"value": 1}}}}}}
   },
   "layer": [
    {"transform": [{"filter": "datum.series == 'obs'"}], "mark": {"type": "point", "filled": true, "size": 9, "opacity": 1}},
    {"transform": [{"filter": "datum.series == 'rec'"}], "mark": {"type": "line", "strokeWidth": 1.1}}
   ]},
  {"data": {"values": [{"label": "(c) Buoy 42007"}]}, "mark": {"type": "text", "align": "right", "baseline": "middle", "fontSize": 7.5, "color": "#333"},
   "encoding": {"x": {"datum": 31.88, "type": "quantitative", "axis": {"orient": "top", "values": [24,25,26,27,28,29,30,31,32], "labels": false, "title": null}}, "y": {"datum": 43.5, "type": "quantitative", "axis": {"orient": "right", "values": [0,10,20,30,40,50], "labels": false, "title": null}}, "text": {"field": "label"}}}
 ]},
 {"width": 205, "height": 67, "resolve": {"axis": {"x": "independent", "y": "independent"}}, "layer": [
  {"data": {"name": "w"}, "transform": [{"filter": "datum.panel == 'g'"}],
   "encoding": {
    "x": {"field": "day", "type": "quantitative", "scale": {"domain": [24, 32], "nice": false, "zero": false}, "axis": {"values": [24,25,26,27,28,29,30,31,32], "labelExpr": "datum.value < 32 ? '8/' + datum.value : '9/1'", "title": null}},
    "y": {"field": "value", "type": "quantitative", "scale": {"domain": [0, 360], "nice": false}, "axis": {"values": [0,90,180,270,360], "title": "Wind direction (degree)"}},
    "color": {"field": "series", "type": "nominal", "scale": {"domain": ["rec","obs"], "range": ["#222","#999"]}, "legend": {"labelExpr": "datum.value == 'rec' ? 'Reconstructed wind field' : 'Observed'", "encode": {"symbols": {"update": {"shape": {"signal": "datum.value == 'rec' ? 'stroke' : 'circle'"}, "size": {"signal": "datum.value == 'rec' ? 196 : 10"}, "stroke": {"signal": "datum.value == 'rec' ? '#222' : '#999'"}, "fill": {"signal": "datum.value == 'rec' ? 'transparent' : '#999'"}, "strokeWidth": {"value": 1}}}}}}
   },
   "layer": [
    {"transform": [{"filter": "datum.series == 'obs'"}], "mark": {"type": "point", "filled": true, "size": 9, "opacity": 1}},
    {"transform": [{"filter": "datum.series == 'rec'"}], "mark": {"type": "line", "strokeWidth": 1.1}}
   ]},
  {"data": {"values": [{"label": "(g) Buoy 42007"}]}, "mark": {"type": "text", "align": "right", "baseline": "middle", "fontSize": 7.5, "color": "#333"},
   "encoding": {"x": {"datum": 31.9, "type": "quantitative", "axis": {"orient": "top", "values": [24,25,26,27,28,29,30,31,32], "labels": false, "title": null}}, "y": {"datum": 313, "type": "quantitative", "axis": {"orient": "right", "values": [0,90,180,270,360], "labels": false, "title": null}}, "text": {"field": "label"}}}
 ]},
 {"width": 208, "height": 67, "resolve": {"axis": {"x": "independent", "y": "independent"}}, "layer": [
  {"data": {"name": "w"}, "transform": [{"filter": "datum.panel == 'd'"}],
   "encoding": {
    "x": {"field": "day", "type": "quantitative", "scale": {"domain": [24, 32], "nice": false, "zero": false}, "axis": {"values": [24,25,26,27,28,29,30,31,32], "labelExpr": "datum.value < 32 ? '8/' + datum.value : '9/1'", "title": "Date"}},
    "y": {"field": "value", "type": "quantitative", "scale": {"domain": [0, 50], "nice": false}, "axis": {"values": [0,10,20,30,40,50], "title": "Wind speed (m s⁻¹)"}},
    "color": {"field": "series", "type": "nominal", "scale": {"domain": ["rec","obs"], "range": ["#222","#999"]}, "legend": {"labelExpr": "datum.value == 'rec' ? 'Reconstructed wind field' : 'Observed'", "encode": {"symbols": {"update": {"shape": {"signal": "datum.value == 'rec' ? 'stroke' : 'circle'"}, "size": {"signal": "datum.value == 'rec' ? 196 : 10"}, "stroke": {"signal": "datum.value == 'rec' ? '#222' : '#999'"}, "fill": {"signal": "datum.value == 'rec' ? 'transparent' : '#999'"}, "strokeWidth": {"value": 1}}}}}}
   },
   "layer": [
    {"transform": [{"filter": "datum.series == 'obs'"}], "mark": {"type": "point", "filled": true, "size": 9, "opacity": 1}},
    {"transform": [{"filter": "datum.series == 'rec'"}], "mark": {"type": "line", "strokeWidth": 1.1}}
   ]},
  {"data": {"values": [{"label": "(d) Buoy 42040"}]}, "mark": {"type": "text", "align": "right", "baseline": "middle", "fontSize": 7.5, "color": "#333"},
   "encoding": {"x": {"datum": 31.88, "type": "quantitative", "axis": {"orient": "top", "values": [24,25,26,27,28,29,30,31,32], "labels": false, "title": null}}, "y": {"datum": 43.5, "type": "quantitative", "axis": {"orient": "right", "values": [0,10,20,30,40,50], "labels": false, "title": null}}, "text": {"field": "label"}}}
 ]},
 {"width": 205, "height": 67, "resolve": {"axis": {"x": "independent", "y": "independent"}}, "layer": [
  {"data": {"name": "w"}, "transform": [{"filter": "datum.panel == 'h'"}],
   "encoding": {
    "x": {"field": "day", "type": "quantitative", "scale": {"domain": [24, 32], "nice": false, "zero": false}, "axis": {"values": [24,25,26,27,28,29,30,31,32], "labelExpr": "datum.value < 32 ? '8/' + datum.value : '9/1'", "title": "Date"}},
    "y": {"field": "value", "type": "quantitative", "scale": {"domain": [0, 360], "nice": false}, "axis": {"values": [0,90,180,270,360], "title": "Wind direction (degree)"}},
    "color": {"field": "series", "type": "nominal", "scale": {"domain": ["rec","obs"], "range": ["#222","#999"]}, "legend": {"labelExpr": "datum.value == 'rec' ? 'Reconstructed wind field' : 'Observed'", "encode": {"symbols": {"update": {"shape": {"signal": "datum.value == 'rec' ? 'stroke' : 'circle'"}, "size": {"signal": "datum.value == 'rec' ? 196 : 10"}, "stroke": {"signal": "datum.value == 'rec' ? '#222' : '#999'"}, "fill": {"signal": "datum.value == 'rec' ? 'transparent' : '#999'"}, "strokeWidth": {"value": 1}}}}}}
   },
   "layer": [
    {"transform": [{"filter": "datum.series == 'obs'"}], "mark": {"type": "point", "filled": true, "size": 9, "opacity": 1}},
    {"transform": [{"filter": "datum.series == 'rec'"}], "mark": {"type": "line", "strokeWidth": 1.1}}
   ]},
  {"data": {"values": [{"label": "(h) Buoy 42040"}]}, "mark": {"type": "text", "align": "right", "baseline": "middle", "fontSize": 7.5, "color": "#333"},
   "encoding": {"x": {"datum": 31.9, "type": "quantitative", "axis": {"orient": "top", "values": [24,25,26,27,28,29,30,31,32], "labels": false, "title": null}}, "y": {"datum": 313, "type": "quantitative", "axis": {"orient": "right", "values": [0,90,180,270,360], "labels": false, "title": null}}, "text": {"field": "label"}}}
 ]}
]
}
